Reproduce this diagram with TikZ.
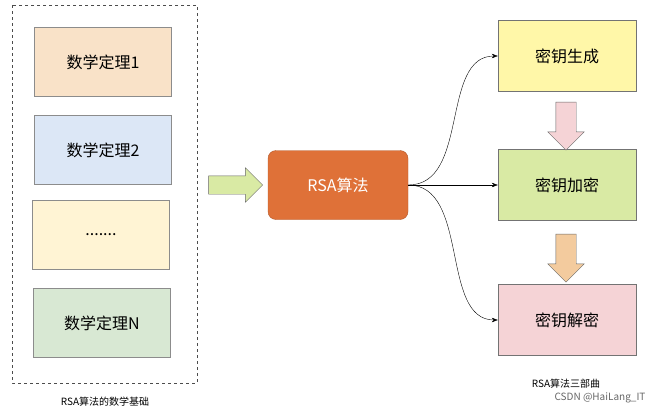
\documentclass[tikz,border=0pt]{standalone}
\usepackage{fontspec}
\setmainfont{Noto Sans CJK SC}
\usetikzlibrary{shapes.arrows,positioning,arrows.meta}
\definecolor{cOrange}{HTML}{F9E2C8}
\definecolor{cBlue}{HTML}{DCE7F6}
\definecolor{cCream}{HTML}{FFF4D4}
\definecolor{cGreen}{HTML}{D8E8D3}
\definecolor{cRsa}{HTML}{DF7138}
\definecolor{cYellow}{HTML}{FFF7A8}
\definecolor{cLime}{HTML}{D9EAA4}
\definecolor{cPink}{HTML}{F5D3D6}
\definecolor{cTan}{HTML}{F3CB9E}
\begin{document}
\begin{tikzpicture}[x=1pt,y=-1pt,>={Stealth[length=6pt]},
  thm/.style={draw=black!45,minimum width=137pt,minimum height=69pt,font=\fontsize{16}{16}\selectfont},
  stage/.style={draw=black!55,minimum width=138pt,minimum height=71pt,font=\fontsize{16}{16}\selectfont},
  block/.style={single arrow,draw=black!60,single arrow head extend=8pt,minimum height=54pt,
    inner sep=0pt,text height=18pt,text width=0pt,text depth=0pt},
  down/.style={block,shape border rotate=270,minimum height=48pt,text height=0pt,text width=20pt}]
  \useasboundingbox (0,0) rectangle (669,415);

  % left block
  \draw[dashed,black!70] (12,5) rectangle (197,383);
  \node[thm,fill=cOrange] (t1) at (103,62) {数学定理1};
  \node[thm,fill=cBlue] (t2) at (103,150) {数学定理2};
  \node[thm,fill=cCream] (t3) at (101,235) {.......};
  \node[thm,fill=cGreen] (tn) at (102,323) {数学定理N};
  \node[font=\fontsize{10}{10}\selectfont] (base) at (105,402) {RSA算法的数学基础};

  % middle
  \node[block,fill=cLime] (in) at (231,185) {};
  \node[draw=cRsa!80!black,fill=cRsa,rounded corners=8pt,minimum width=140pt,minimum height=69pt,
    text=white,font=\fontsize{16}{16}\selectfont] (rsa) at (338,185) {RSA算法};

  % right block
  \node[stage,fill=cYellow] (gen) at (567,56) {密钥生成};
  \node[stage,fill=cLime] (enc) at (567,185) {密钥加密};
  \node[stage,fill=cPink] (dec) at (567,320) {密钥解密};
  \node[down,fill=cPink] at (566,121) {};
  \node[down,fill=cTan] at (566,253) {};
  \node[font=\fontsize{10}{10}\selectfont] (trio) at (566,384) {RSA算法三部曲};
  \node[font=\fontsize{10}{10}\selectfont,text=black!60] (mark) at (600,398) {CSDN @HaiLang\_IT};

  \draw[->] (rsa.east) .. controls (470,185) and (440,56) .. (gen.west);
  \draw[->] (rsa.east) -- (enc.west);
  \draw[->] (rsa.east) .. controls (470,185) and (440,320) .. (dec.west);
\end{tikzpicture}
\end{document}
